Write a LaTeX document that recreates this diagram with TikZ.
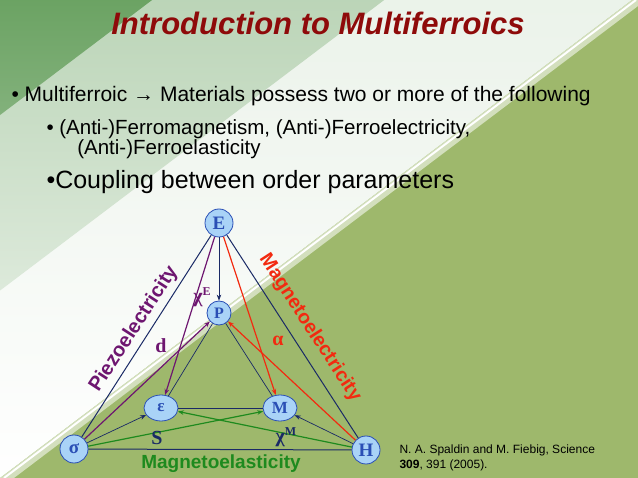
\documentclass[tikz,border=0pt]{standalone}
\usepackage{fontspec}
\setmainfont{Liberation Sans}
\newfontfamily\serifb{Liberation Serif}
\usetikzlibrary{arrows.meta,shapes.geometric}
\definecolor{olive}{HTML}{9EB86C}
\definecolor{dgreen}{HTML}{2A7A1E}
\definecolor{nodefill}{HTML}{A9D3F7}
\definecolor{nodeborder}{HTML}{2A4FB5}
\definecolor{navy}{HTML}{1A2A66}
\definecolor{purp}{HTML}{6E1670}
\definecolor{redl}{HTML}{F22A10}
\definecolor{grn}{HTML}{1E8A1E}
\definecolor{titlered}{HTML}{8E0A0A}
\tikzset{
  qty/.style={circle,draw=nodeborder,fill=nodefill,line width=0.8pt,inner sep=0pt,minimum size=28pt,font=\serifb\bfseries\fontsize{19}{19}\selectfont,text=nodeborder},
  qtys/.style={qty,minimum size=24pt,font=\serifb\bfseries\fontsize{16}{16}\selectfont},
  qtye/.style={qty,ellipse,minimum width=34pt,minimum height=26pt,font=\serifb\bfseries\fontsize{17}{17}\selectfont},
  ln/.style={navy,line width=0.7pt},
  arr/.style={-{Stealth[length=6pt,width=4.5pt]},line width=1.2pt},
  lab/.style={font=\serifb\bfseries\fontsize{20}{20}\selectfont},
  body/.style={anchor=west,text=black},
}
\begin{document}
\begin{tikzpicture}[x=1pt,y=-1pt]
\useasboundingbox (0,0) rectangle (638,478);
\fill[olive] (0,0) rectangle (638,478);
\begin{scope}
\clip (0,0)--(632,0)--(0,478)--cycle;
\begin{scope}[shift={(0,478)},rotate=37.1]
\shade[bottom color=white,top color=white!88!dgreen] (-20pt,-1pt) rectangle (820pt,150pt);
\shade[bottom color=white!88!dgreen,top color=white!55!dgreen] (-20pt,149.5pt) rectangle (820pt,290pt);
\shade[bottom color=white!55!dgreen,top color=dgreen] (-20pt,289.5pt) rectangle (820pt,390pt);
\end{scope}
\end{scope}
\fill[white!55!olive] (632,0)--(646,0)--(14,478)--(0,478)--cycle;
\draw[white,line width=2pt] (636,0)--(4,478);
% texts
\node[font=\bfseries\itshape\fontsize{31}{31}\selectfont,text=titlered] (title) at (318,23) {Introduction to Multiferroics};
\node[body,font=\fontsize{21}{21}\selectfont] (b1) at (8,96) {• Multiferroic → Materials possess two or more of the following};
\node[body,font=\fontsize{20.5}{19}\selectfont,align=left] (b2) at (43,139) {• (Anti-)Ferromagnetism, (Anti-)Ferroelectricity,\\\hspace*{1.5em}(Anti-)Ferroelasticity};
\node[body,font=\fontsize{25}{25}\selectfont] (b3) at (43,182) {•Coupling between order parameters};
% nodes
\node[qty] (E) at (219,223) {E};
\node[qtys] (P) at (219,313) {P};
\node[qtye] (eps) at (161,408) {ε};
\node[qtye] (M) at (280,408) {M};
\node[qty] (sig) at (74,449) {σ};
\node[qty] (H) at (366,450) {H};
% frame lines
\draw[ln,line width=1pt] (E)--(sig);
\draw[ln,line width=1pt] (E)--(H);
\draw[ln,line width=1pt] (sig)--(H);
\draw[ln] (P)--(eps);
\draw[ln] (P)--(M);
\draw[ln] (eps)--(M);
\draw[ln,arr,line width=0.7pt] (E)--(P);
\draw[ln,arr,line width=0.7pt] (sig)--(eps);
\draw[ln,arr,line width=0.7pt] (H)--(M);
% coupling arrows
\draw[purp,arr] (E)--(eps);
\draw[purp,arr] (sig)--(P);
\draw[redl,arr] (E)--(M);
\draw[redl,arr] (H)--(P);
\draw[grn,arr] (sig)--(M);
\draw[grn,arr] (H)--(eps);
% labels
\node[lab,text=purp] (chiE) at (202,297) {χ\raisebox{0.7ex}{\fontsize{12}{12}\selectfont E}};
\node[lab,text=purp] (d) at (161,346) {d};
\node[lab,text=redl] (al) at (278,341) {α};
\node[lab,text=navy] (S) at (157,438) {S};
\node[lab,text=navy] (chiM) at (286,437) {χ\raisebox{0.7ex}{\fontsize{12}{12}\selectfont M}};
\node[font=\bfseries\fontsize{20}{20}\selectfont,text=purp,rotate=57] (piezo) at (134,329) {Piezoelectricity};
\node[font=\bfseries\fontsize{19.5}{19.5}\selectfont,text=redl,rotate=-57] (magel) at (310,328) {Magnetoelectricity};
\node[font=\bfseries\fontsize{19}{19}\selectfont,text=grn] (mgela) at (221,464) {Magnetoelasticity};
\node[anchor=west,font=\fontsize{12}{15}\selectfont,align=left] (ref) at (396,458) {N. A. Spaldin and M. Fiebig, Science\\\textbf{309}, 391 (2005).};
\end{tikzpicture}
\end{document}
